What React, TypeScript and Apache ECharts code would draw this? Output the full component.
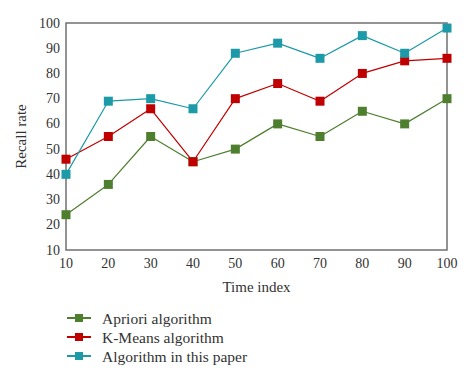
import React, { useEffect, useRef } from "react";
import * as echarts from "echarts";

const timeIndex = ["10", "20", "30", "40", "50", "60", "70", "80", "90", "100"];
const apriori = [24, 36, 55, 45, 50, 60, 55, 65, 60, 70];
const kmeans = [46, 55, 66, 45, 70, 76, 69, 80, 85, 86];
const ours = [40, 69, 70, 66, 88, 92, 86, 95, 88, 98];

const FONT = "'Liberation Serif', 'DejaVu Serif', serif";

export default function App() {
  const ref = useRef<HTMLDivElement>(null);
  useEffect(() => {
    if (!ref.current) return;
    const chart = echarts.init(ref.current, null, { renderer: "svg" });
    const mk = (name: string, data: number[], color: string) => ({
      name,
      type: "line",
      data,
      symbol: "rect",
      symbolSize: 9,
      itemStyle: { color },
      lineStyle: { color, width: 1.2 },
      z: 3,
    });
    chart.setOption({
      animation: false,
      backgroundColor: "#fff",
      textStyle: { fontFamily: FONT },
      grid: {
        left: 66,
        top: 23,
        width: 381,
        height: 227,
        show: true,
        borderColor: "#707070",
        borderWidth: 1.5,
        backgroundColor: "transparent",
      },
      xAxis: {
        type: "category",
        data: timeIndex,
        boundaryGap: false,
        name: "Time index",
        nameLocation: "middle",
        nameGap: 29,
        nameTextStyle: { fontFamily: FONT, fontSize: 15, color: "#333" },
        axisLine: { show: false },
        axisTick: { show: false },
        axisLabel: { fontFamily: FONT, fontSize: 14, color: "#333", margin: 6 },
        splitLine: { show: false },
      },
      yAxis: {
        type: "value",
        min: 10,
        max: 100,
        interval: 10,
        name: "Recall rate",
        nameLocation: "middle",
        nameGap: 37,
        nameTextStyle: { fontFamily: FONT, fontSize: 15, color: "#333" },
        axisLine: { show: false },
        axisTick: { show: false },
        axisLabel: { fontFamily: FONT, fontSize: 14, color: "#333", margin: 6 },
        splitLine: { show: false },
      },
      legend: {
        orient: "vertical",
        left: 61,
        top: 305,
        itemWidth: 24,
        itemHeight: 10,
        itemGap: 3,
        textStyle: {
          fontFamily: FONT,
          fontSize: 15.5,
          color: "#333",
          padding: [0, 0, 0, 6],
        },
        data: ["Apriori algorithm", "K-Means algorithm", "Algorithm in this paper"],
      },
      series: [
        mk("Apriori algorithm", apriori, "#4e7f2f"),
        mk("K-Means algorithm", kmeans, "#c00000"),
        mk("Algorithm in this paper", ours, "#1d9aa8"),
      ],
    });
    return () => chart.dispose();
  }, []);
  return (
    <div
      ref={ref}
      style={{ position: "fixed", left: 0, top: 0, width: 474, height: 380 }}
    />
  );
}
